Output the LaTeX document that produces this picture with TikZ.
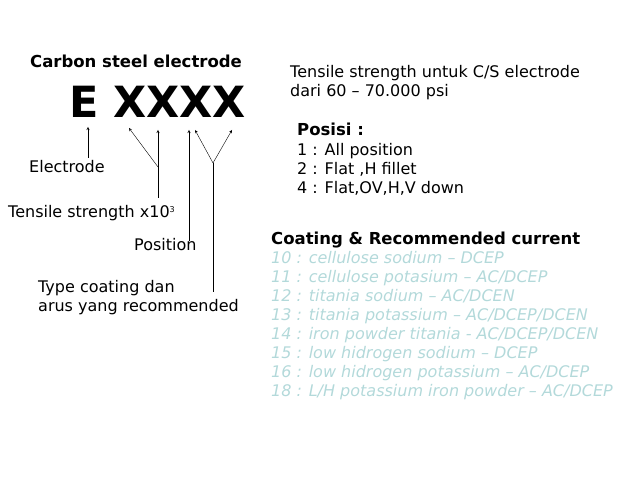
\documentclass[tikz,border=0pt]{standalone}
\usepackage{fontspec}
\setmainfont{DejaVu Sans}
\definecolor{lite}{HTML}{B3D9DA}
\begin{document}
\begin{tikzpicture}[x=1pt,y=-1pt,
  txt/.style={anchor=base west,inner sep=0,font=\fontsize{16}{18}\selectfont},
  bld/.style={txt,font=\fontsize{16.5}{18}\selectfont\bfseries},
  itm/.style={txt,text=lite,font=\fontsize{16}{18}\selectfont\itshape},
  arr/.style={->,>=stealth,thin}]
\useasboundingbox (0,0) rectangle (638,478);
\node[bld] (title) at (30,68) {Carbon steel electrode};
\node[anchor=base west,inner sep=0,font=\fontsize{43}{46}\selectfont\bfseries] (big) at (69,118) {E XXXX};
\node[txt] (elec) at (29,173) {Electrode};
\node[txt] (tens) at (8,218) {Tensile strength x10\raisebox{0.6ex}{\fontsize{8}{9}\selectfont 3}};
\node[txt] (pos) at (134,251) {Position};
\node[txt] (tc1) at (38,293) {Type coating dan};
\node[txt] (tc2) at (38,312) {arus yang recommended};
\coordinate (e0) at (88,158); \coordinate (e1) at (88,127);
\coordinate (j1) at (158,167); \coordinate (j1b) at (158,198);
\coordinate (t1) at (129,128); \coordinate (t2) at (158,130);
\coordinate (p0) at (189,241); \coordinate (p1) at (189,130);
\coordinate (j2) at (213,163); \coordinate (j2b) at (213,292);
\coordinate (c1) at (195,130); \coordinate (c2) at (232,130);
\draw[arr] (e0) -- (e1);
\draw (j1b) -- (j1); \draw[arr] (j1) -- (t1); \draw[arr] (j1) -- (t2);
\draw[arr] (p0) -- (p1);
\draw (j2b) -- (j2); \draw[arr] (j2) -- (c1); \draw[arr] (j2) -- (c2);
\node[txt] (ts1) at (290,78) {Tensile strength untuk C/S electrode};
\node[txt] (ts2) at (290,97) {dari 60 – 70.000 psi};
\node[bld] (ph) at (297,136) {Posisi :};
\node[txt] (p1t) at (297,156) {1 : All position};
\node[txt] (p2t) at (297,175) {2 : Flat ,H fillet};
\node[txt] (p4t) at (297,194) {4 : Flat,OV,H,V down};
\node[bld] (ch) at (271,245) {Coating \& Recommended current};
\foreach \t [count=\i] in {10 : cellulose sodium – DCEP,11 : cellulose potasium – AC/DCEP,12 : titania sodium – AC/DCEN,13 : titania potassium – AC/DCEP/DCEN,14 : iron powder titania - AC/DCEP/DCEN,15 : low hidrogen sodium – DCEP,16 : low hidrogen potassium – AC/DCEP,18 : L/H potassium iron powder – AC/DCEP}
  \node[itm] (it\i) at (271,245+19*\i) {\t};
\end{tikzpicture}
\end{document}
